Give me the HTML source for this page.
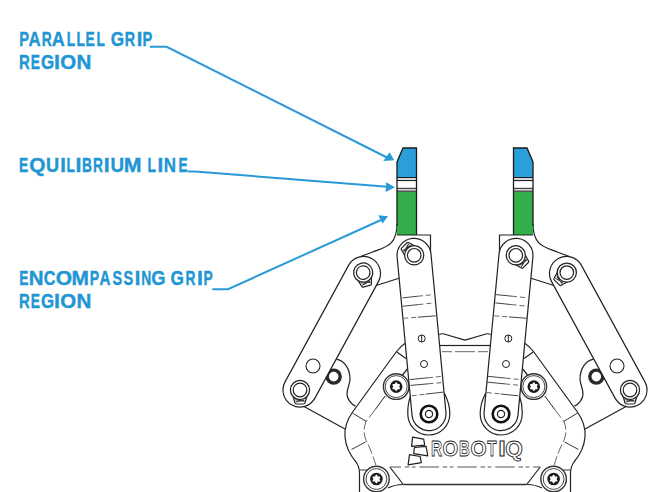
<!DOCTYPE html>
<html><head><meta charset="utf-8"><style>html,body{margin:0;padding:0;background:#fff;}svg{display:block}</style></head>
<body><svg width="660" height="492" viewBox="0 0 660 492">
<defs><g id="half">
<path d="M405.2,343.3 Q400.5,346.5 396.5,351.5 L352.6,412 Q344,424 345,437 Q346,450 356,462 Q359.5,467 359.5,473 V492" stroke="#222" stroke-width="1.2" fill="none"/>
<path d="M439.3,334.6 Q441.5,333.3 444,334 L465,340.2" stroke="#222" stroke-width="1.2" fill="none"/>
<path d="M440,345.5 H465" stroke="#222" stroke-width="1.2" fill="none"/>
<path d="M442,351.7 H465" stroke="#666" stroke-width="1" fill="none" stroke-dasharray="10 3"/>
<path d="M396.8,352 L406,358.4" stroke="#222" stroke-width="1.2" fill="none"/>
<path d="M407.7,368.5 L393,386.8" stroke="#222" stroke-width="1.2" fill="none"/>
<path d="M385.2,396 L375.1,409.7" stroke="#222" stroke-width="1" fill="none"/><path d="M375.1,409.7 L366,421.6 Q362,432 366.4,441 Q372,452 375.8,465" stroke="#666" stroke-width="1" fill="none" stroke-dasharray="10 3"/>
<path d="M352.4,413 L366.4,421.5 M351.5,449.5 L365.5,442" stroke="#222" stroke-width="0.9" fill="none"/>
<path d="M389.8,467 L403.3,484.5" stroke="#222" stroke-width="1.2" fill="none"/><path d="M403.3,484.5 H465" stroke="#333" stroke-width="1.5" fill="none"/>
<path d="M388,488 Q395,484.5 402.9,484.5" stroke="#222" stroke-width="1.2" fill="none"/>
<path d="M360,470 H368" stroke="#222" stroke-width="0.9" fill="none"/>
<path d="M410.6,396 Q407.5,404 407.8,414 A21,21 0 0 0 449.8,414 Q450,404 444.3,393" stroke="#222" stroke-width="1.2" fill="none"/>
<circle cx="396.2" cy="386.6" r="12.8" fill="#fff" stroke="#333" stroke-width="1.4"/>
<circle cx="396.2" cy="386.6" r="11" fill="none" stroke="#444" stroke-width="1.0"/>
<path d="M389.9,386.6 A6.3,6.3 0 1 0 402.5,386.6 A6.3,6.3 0 1 0 389.9,386.6Z M396.20,382.30 L396.57,382.40 L396.89,382.69 L397.14,383.07 L397.34,383.48 L397.50,383.80 L397.70,384.00 L397.97,384.07 L398.34,384.05 L398.78,384.02 L399.25,384.04 L399.65,384.18 L399.92,384.45 L400.02,384.82 L399.94,385.24 L399.73,385.66 L399.47,386.02 L399.28,386.33 L399.20,386.60 L399.28,386.87 L399.47,387.18 L399.73,387.54 L399.94,387.96 L400.02,388.38 L399.92,388.75 L399.65,389.02 L399.25,389.16 L398.78,389.18 L398.34,389.15 L397.97,389.13 L397.70,389.20 L397.50,389.40 L397.34,389.72 L397.14,390.13 L396.89,390.51 L396.57,390.80 L396.20,390.90 L395.83,390.80 L395.51,390.51 L395.26,390.13 L395.06,389.72 L394.90,389.40 L394.70,389.20 L394.43,389.13 L394.06,389.15 L393.62,389.18 L393.15,389.16 L392.75,389.02 L392.48,388.75 L392.38,388.38 L392.46,387.96 L392.67,387.54 L392.93,387.18 L393.12,386.87 L393.20,386.60 L393.12,386.33 L392.93,386.02 L392.67,385.66 L392.46,385.24 L392.38,384.82 L392.48,384.45 L392.75,384.18 L393.15,384.04 L393.62,384.02 L394.06,384.05 L394.43,384.07 L394.70,384.00 L394.90,383.80 L395.06,383.48 L395.26,383.07 L395.51,382.69 L395.83,382.40Z" fill="#1c1c1c" fill-rule="evenodd"/>
<circle cx="376.4" cy="479" r="12.8" fill="#fff" stroke="#333" stroke-width="1.4"/>
<circle cx="376.4" cy="479" r="10.4" fill="none" stroke="#444" stroke-width="1.0"/>
<path d="M370.09999999999997,479 A6.3,6.3 0 1 0 382.7,479 A6.3,6.3 0 1 0 370.09999999999997,479Z M376.40,474.70 L376.77,474.80 L377.09,475.09 L377.34,475.47 L377.54,475.88 L377.70,476.20 L377.90,476.40 L378.17,476.47 L378.54,476.45 L378.98,476.42 L379.45,476.44 L379.85,476.58 L380.12,476.85 L380.22,477.22 L380.14,477.64 L379.93,478.06 L379.67,478.42 L379.48,478.73 L379.40,479.00 L379.48,479.27 L379.67,479.58 L379.93,479.94 L380.14,480.36 L380.22,480.78 L380.12,481.15 L379.85,481.42 L379.45,481.56 L378.98,481.58 L378.54,481.55 L378.17,481.53 L377.90,481.60 L377.70,481.80 L377.54,482.12 L377.34,482.53 L377.09,482.91 L376.77,483.20 L376.40,483.30 L376.03,483.20 L375.71,482.91 L375.46,482.53 L375.26,482.12 L375.10,481.80 L374.90,481.60 L374.63,481.53 L374.26,481.55 L373.82,481.58 L373.35,481.56 L372.95,481.42 L372.68,481.15 L372.58,480.78 L372.66,480.36 L372.87,479.94 L373.13,479.58 L373.32,479.27 L373.40,479.00 L373.32,478.73 L373.13,478.42 L372.87,478.06 L372.66,477.64 L372.58,477.22 L372.68,476.85 L372.95,476.58 L373.35,476.44 L373.82,476.42 L374.26,476.45 L374.63,476.47 L374.90,476.40 L375.10,476.20 L375.26,475.88 L375.46,475.47 L375.71,475.09 L376.03,474.80Z" fill="#1c1c1c" fill-rule="evenodd"/>
<path d="M336.6,359.1 C345,361 350,369 350,379.3 C350,384 347,388 347,393.9 C347,399 351,404 355.5,406.1" stroke="#222" stroke-width="1.2" fill="none"/>
<path d="M303.5,406.3 L345,429" stroke="#222" stroke-width="1.2" fill="none"/>
<circle cx="333.7" cy="376.6" r="6.5" fill="#fff" stroke="#2a2a2a" stroke-width="3.4"/>
<path d="M397,224 C397,246 385,247 372,252.3 L360.5,256.5" stroke="#222" stroke-width="1.2" fill="none"/>
<path d="M374.5,286 L399,278.2" stroke="#222" stroke-width="1.2" fill="none"/>
<path d="M403,148 H416.5 V235 H397 V162 Z" fill="#34ad4b"/>
<path d="M403,148 H416.5 V177.2 H397 V162 Z" fill="#2a9fdc"/>
<rect x="397" y="177" width="19.5" height="14.7" fill="#fff"/><rect x="397" y="177" width="19.5" height="1.2" fill="#1e1e1e"/><rect x="397" y="178.2" width="19.5" height="1.8" fill="#d8d8d8"/><rect x="397" y="180" width="19.5" height="1.1" fill="#222"/><rect x="397" y="187.8" width="19.5" height="1.1" fill="#222"/><rect x="397" y="188.9" width="19.5" height="1.7" fill="#d8d8d8"/><rect x="397" y="190.6" width="19.5" height="1.1" fill="#1e1e1e"/>
<path d="M397,226 V162 L403,148 H416.5 V235" stroke="#1a1a1a" stroke-width="1.3" fill="none"/>
<path d="M397,235 H430.5 V252" stroke="#222" stroke-width="1.2" fill="none"/>
<path d="M348.57,265.36 A17,17 0 0 1 378.43,281.64 L314.93,398.14 A17,17 0 0 1 285.07,381.86 Z" fill="#fff" stroke="#222" stroke-width="1.2" />
<circle cx="313" cy="366" r="7" fill="#fff" stroke="#222" stroke-width="1.1"/>
</g><g id="halfB">
<path d="M397.08,256.60 A17,17 0 0 1 430.92,253.40 L445.92,412.40 A17,17 0 0 1 412.08,415.60 Z" fill="#fff" stroke="#222" stroke-width="1.2" />
<circle cx="429" cy="414" r="8.3" fill="#fff" stroke="#111" stroke-width="2.6"/><circle cx="429" cy="414" r="3.6" fill="#fff" stroke="#222" stroke-width="1.2"/>
<circle cx="421.7" cy="338.5" r="3.5" fill="none" stroke="#222" stroke-width="1"/><line x1="421.7" y1="335" x2="421.7" y2="342" stroke="#222" stroke-width="1"/>
<circle cx="424" cy="364" r="3.5" fill="none" stroke="#222" stroke-width="1"/>
</g></defs>
<use href="#half"/>
<use href="#half" transform="translate(930,0) scale(-1,1)"/>
<g transform="translate(363.2 272.6) rotate(-15)">
<path d="M-6.8,6.5 L-5,13 Q-4.8,14 -3.8,14 L3.8,14 Q4.8,14 5,13 L6.8,6.5 Z" fill="#fff" stroke="#222" stroke-width="1.2"/>
<path d="M-4.6,9.6 L4.6,11.2 M-4.2,12 L4.2,10" stroke="#333" stroke-width="1.1"/>
<circle r="9.6" fill="#fff" stroke="#222" stroke-width="1.25"/>
<circle r="6.8" fill="#fff" stroke="#222" stroke-width="1.2"/></g>
<g transform="translate(300 390) rotate(0)">
<path d="M-6.8,6.5 L-5,13 Q-4.8,14 -3.8,14 L3.8,14 Q4.8,14 5,13 L6.8,6.5 Z" fill="#fff" stroke="#222" stroke-width="1.2"/>
<path d="M-4.6,9.6 L4.6,11.2 M-4.2,12 L4.2,10" stroke="#333" stroke-width="1.1"/>
<circle r="9.6" fill="#fff" stroke="#222" stroke-width="1.25"/>
<circle r="6.8" fill="#fff" stroke="#222" stroke-width="1.2"/></g>
<g transform="translate(566.8 272.6) rotate(45)">
<path d="M-6.8,6.5 L-5,13 Q-4.8,14 -3.8,14 L3.8,14 Q4.8,14 5,13 L6.8,6.5 Z" fill="#fff" stroke="#222" stroke-width="1.2"/>
<path d="M-4.6,9.6 L4.6,11.2 M-4.2,12 L4.2,10" stroke="#333" stroke-width="1.1"/>
<circle r="9.6" fill="#fff" stroke="#222" stroke-width="1.25"/>
<circle r="6.8" fill="#fff" stroke="#222" stroke-width="1.2"/></g>
<g transform="translate(630 390) rotate(0)">
<path d="M-6.8,6.5 L-5,13 Q-4.8,14 -3.8,14 L3.8,14 Q4.8,14 5,13 L6.8,6.5 Z" fill="#fff" stroke="#222" stroke-width="1.2"/>
<path d="M-4.6,9.6 L4.6,11.2 M-4.2,12 L4.2,10" stroke="#333" stroke-width="1.1"/>
<circle r="9.6" fill="#fff" stroke="#222" stroke-width="1.25"/>
<circle r="6.8" fill="#fff" stroke="#222" stroke-width="1.2"/></g>
<use href="#halfB"/>
<use href="#halfB" transform="translate(930,0) scale(-1,1)"/>
<path d="M402.5,297.9 L417.9,296.2" stroke="#444" stroke-width="1" fill="none"/><path d="M417.9,296.2 L433.3,294.6" stroke="#666" stroke-width="1" fill="none" stroke-dasharray="5 3"/><path d="M402.5,306.3 L418.4,304.6" stroke="#444" stroke-width="1" fill="none"/><path d="M418.4,304.6 L434.2,302.9" stroke="#666" stroke-width="1" fill="none" stroke-dasharray="5 3"/><path d="M403.3,318.3 L417.9,317.2" stroke="#666" stroke-width="1" fill="none" stroke-dasharray="5 3"/><path d="M417.9,317.2 L435.8,315.8" stroke="#444" stroke-width="1" fill="none"/><path d="M410,379.6 L427.9,377.8" stroke="#444" stroke-width="1" fill="none"/><path d="M427.9,377.8 L442.5,376.3" stroke="#666" stroke-width="1" fill="none" stroke-dasharray="5 3"/><path d="M410.5,385.4 L428.4,383.8" stroke="#444" stroke-width="1" fill="none"/><path d="M428.4,383.8 L443,382.5" stroke="#666" stroke-width="1" fill="none" stroke-dasharray="5 3"/><path d="M411.7,395.8 L425.9,394.1" stroke="#666" stroke-width="1" fill="none" stroke-dasharray="5 3"/><path d="M425.9,394.1 L443.3,392.1" stroke="#444" stroke-width="1" fill="none"/><path d="M495.8,294.6 L512.0,296.2" stroke="#444" stroke-width="1" fill="none"/><path d="M512.0,296.2 L528.3,297.9" stroke="#666" stroke-width="1" fill="none" stroke-dasharray="5 3"/><path d="M495.3,302.9 L511.6,304.6" stroke="#444" stroke-width="1" fill="none"/><path d="M511.6,304.6 L528,306.3" stroke="#666" stroke-width="1" fill="none" stroke-dasharray="5 3"/><path d="M494.2,315.8 L509.0,316.9" stroke="#666" stroke-width="1" fill="none" stroke-dasharray="5 3"/><path d="M509.0,316.9 L527.1,318.3" stroke="#444" stroke-width="1" fill="none"/><path d="M487.5,376.3 L505.6,378.1" stroke="#444" stroke-width="1" fill="none"/><path d="M505.6,378.1 L520.4,379.6" stroke="#666" stroke-width="1" fill="none" stroke-dasharray="5 3"/><path d="M487,382.1 L505.1,383.9" stroke="#444" stroke-width="1" fill="none"/><path d="M505.1,383.9 L520,385.4" stroke="#666" stroke-width="1" fill="none" stroke-dasharray="5 3"/><path d="M486.7,392.5 L500.9,394.0" stroke="#666" stroke-width="1" fill="none" stroke-dasharray="5 3"/><path d="M500.9,394.0 L518.3,395.8" stroke="#444" stroke-width="1" fill="none"/>
<path d="M389.8,467 H540.2" stroke="#555" stroke-width="1.2" fill="none" stroke-dasharray="19.5 3.8 4.5 2.5 3.8 3.8" stroke-dashoffset="8.3"/>
<g transform="translate(414.2 255.3) rotate(135)">
<path d="M-6.8,6.5 L-5,13 Q-4.8,14 -3.8,14 L3.8,14 Q4.8,14 5,13 L6.8,6.5 Z" fill="#fff" stroke="#222" stroke-width="1.2"/>
<path d="M-4.6,9.6 L4.6,11.2 M-4.2,12 L4.2,10" stroke="#333" stroke-width="1.1"/>
<circle r="9.6" fill="#fff" stroke="#222" stroke-width="1.25"/>
<circle r="6.8" fill="#fff" stroke="#222" stroke-width="1.2"/></g>
<g transform="translate(515.8 255.3) rotate(-45)">
<path d="M-6.8,6.5 L-5,13 Q-4.8,14 -3.8,14 L3.8,14 Q4.8,14 5,13 L6.8,6.5 Z" fill="#fff" stroke="#222" stroke-width="1.2"/>
<path d="M-4.6,9.6 L4.6,11.2 M-4.2,12 L4.2,10" stroke="#333" stroke-width="1.1"/>
<circle r="9.6" fill="#fff" stroke="#222" stroke-width="1.25"/>
<circle r="6.8" fill="#fff" stroke="#222" stroke-width="1.2"/></g>

<g fill="#2196d3" stroke="#2196d3" stroke-width="0.4" font-family="Liberation Sans" font-weight="bold" font-size="20.3">
<text transform="translate(19.22,46.4) scale(0.722,1)">P</text>
<text transform="translate(28.48,46.4) scale(0.830,1)">A</text>
<text transform="translate(41.80,46.4) scale(0.680,1)">R</text>
<text transform="translate(51.75,46.4) scale(0.888,1)">A</text>
<text transform="translate(66.78,46.4) scale(0.680,1)">L</text>
<text transform="translate(76.43,46.4) scale(0.680,1)">L</text>
<text transform="translate(85.55,46.4) scale(0.680,1)">E</text>
<text transform="translate(96.43,46.4) scale(0.680,1)">L</text>
<text transform="translate(110.79,46.4) scale(0.847,1)">G</text>
<text transform="translate(124.64,46.4) scale(0.706,1)">R</text>
<text transform="translate(136.65,46.4) scale(0.992,1)">I</text>
<text transform="translate(142.52,46.4) scale(0.722,1)">P</text>
<text transform="translate(19.00,68.8) scale(0.737,1)">R</text>
<text transform="translate(30.75,68.8) scale(0.680,1)">E</text>
<text transform="translate(40.91,68.8) scale(0.832,1)">G</text>
<text transform="translate(53.89,68.8) scale(1.050,1)">I</text>
<text transform="translate(60.26,68.8) scale(1.007,1)">O</text>
<text transform="translate(76.42,68.8) scale(1.014,1)">N</text>
<text transform="translate(19.05,171.6) scale(0.680,1)">E</text>
<text transform="translate(29.14,171.6) scale(1.028,1)">Q</text>
<text transform="translate(46.01,171.6) scale(0.893,1)">U</text>
<text transform="translate(60.25,171.6) scale(0.992,1)">I</text>
<text transform="translate(66.43,171.6) scale(0.680,1)">L</text>
<text transform="translate(75.44,171.6) scale(1.050,1)">I</text>
<text transform="translate(82.12,171.6) scale(0.680,1)">B</text>
<text transform="translate(92.95,171.6) scale(0.680,1)">R</text>
<text transform="translate(103.64,171.6) scale(1.050,1)">I</text>
<text transform="translate(110.47,171.6) scale(0.926,1)">U</text>
<text transform="translate(123.87,171.6) scale(1.050,1)">M</text>
<text transform="translate(147.58,171.6) scale(0.680,1)">L</text>
<text transform="translate(157.38,171.6) scale(1.009,1)">I</text>
<text transform="translate(163.86,171.6) scale(0.838,1)">N</text>
<text transform="translate(178.40,171.6) scale(0.680,1)">E</text>
<text transform="translate(19.35,285.4) scale(0.680,1)">E</text>
<text transform="translate(28.63,285.4) scale(1.006,1)">N</text>
<text transform="translate(43.84,285.4) scale(0.799,1)">C</text>
<text transform="translate(55.64,285.4) scale(1.035,1)">O</text>
<text transform="translate(71.50,285.4) scale(1.029,1)">M</text>
<text transform="translate(89.75,285.4) scale(0.696,1)">P</text>
<text transform="translate(99.42,285.4) scale(0.749,1)">A</text>
<text transform="translate(112.48,285.4) scale(0.715,1)">S</text>
<text transform="translate(123.38,285.4) scale(0.715,1)">S</text>
<text transform="translate(134.85,285.4) scale(0.992,1)">I</text>
<text transform="translate(141.22,285.4) scale(0.680,1)">N</text>
<text transform="translate(151.25,285.4) scale(0.905,1)">G</text>
<text transform="translate(170.59,285.4) scale(0.847,1)">G</text>
<text transform="translate(185.45,285.4) scale(0.680,1)">R</text>
<text transform="translate(197.04,285.4) scale(1.050,1)">I</text>
<text transform="translate(203.42,285.4) scale(0.680,1)">P</text>
<text transform="translate(19.00,308) scale(0.737,1)">R</text>
<text transform="translate(30.75,308) scale(0.680,1)">E</text>
<text transform="translate(40.91,308) scale(0.832,1)">G</text>
<text transform="translate(53.89,308) scale(1.050,1)">I</text>
<text transform="translate(60.26,308) scale(1.007,1)">O</text>
<text transform="translate(76.42,308) scale(1.014,1)">N</text>
</g>
<g stroke="#2a9ad6" stroke-width="2" fill="none">
<path d="M149.8,46.8 H166.7 L387,157.5"/>
<path d="M188,171.5 H195 L387.5,186.8"/>
<path d="M212.3,289.2 H228 L381,220"/>
</g>
<g fill="#2a9ad6">
<path d="M394.2,160.2 L383.3,160.9 L389.6,152.2 Z"/>
<path d="M395,187.2 L386.2,182.3 L385.6,192.1 Z"/>
<path d="M388,216.3 L378.2,215.3 L382.6,223.6 Z"/>
</g>


<g fill="#fff" stroke="#1e1e1e" stroke-width="1.2" stroke-linejoin="round">
<path d="M412.6,437.1 L423.7,439.2 L424.7,445.1 L411.6,446.4 Z"/>
<path d="M414.4,447.5 L426.1,446.4 L427.8,455.8 L413.7,453.7 Z"/>
<path d="M409.5,454.7 L420.2,456.5 L421.3,462.7 L408.1,464.8 Z"/>
</g>
<g font-family="Liberation Sans" font-weight="bold" font-size="21.5" fill="#fff" stroke="#222" stroke-width="0.85">
<text transform="translate(431.07,455.5) scale(0.718,1)">R</text>
<text transform="translate(442.57,455.5) scale(0.937,1)">O</text>
<text transform="translate(459.10,455.5) scale(0.694,1)">B</text>
<text transform="translate(470.55,455.5) scale(0.964,1)">O</text>
<text transform="translate(487.23,455.5) scale(0.711,1)">T</text>
<text transform="translate(498.19,455.5) scale(1.259,1)">I</text>
<text transform="translate(505.37,455.5) scale(1.051,1)">Q</text>
</g>

</svg></body></html>
